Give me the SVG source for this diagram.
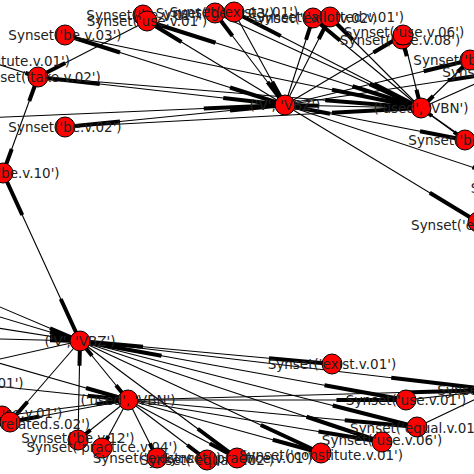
<svg xmlns="http://www.w3.org/2000/svg" width="474" height="474" viewBox="0 0 474 474">
<style>
.e path{fill:none;stroke:#000}
.e .l{stroke-width:1.1}
.e .h{stroke-width:4;stroke-dasharray:0 75 25 0}
.n circle{fill:#ff0000;stroke:#000;stroke-width:1}
.n text{font-family:"DejaVu Sans",sans-serif;font-size:13.5px;fill:#222;text-anchor:middle}
</style>
<rect width="474" height="474" fill="#fff"/>
<g id="connectors" class="e">
<path class="l" d="M285 105L65 35"/><path class="h" pathLength="100" d="M285 105L65 35"/>
<path class="h" pathLength="100" d="M65 35L285 105"/>
<path class="l" d="M285 105L38 77"/><path class="h" pathLength="100" d="M285 105L38 77"/>
<path class="h" pathLength="100" d="M38 77L285 105"/>
<path class="l" d="M147 21L38 77"/><path class="h" pathLength="100" d="M147 21L38 77"/>
<path class="l" d="M-12 61L38 77"/><path class="h" pathLength="100" d="M-12 61L38 77"/>
<path class="l" d="M38 77L3 173"/><path class="h" pathLength="100" d="M38 77L3 173"/>
<path class="h" pathLength="100" d="M3 173L38 77"/>
<path class="l" d="M285 105L65 127"/><path class="h" pathLength="100" d="M285 105L65 127"/>
<path class="h" pathLength="100" d="M65 127L285 105"/>
<path class="l" d="M-40 119L285 105"/><path class="h" pathLength="100" d="M-40 119L285 105"/>
<path class="l" d="M285 105L147 21"/><path class="h" pathLength="100" d="M285 105L147 21"/>
<path class="l" d="M421 108L147 21"/><path class="h" pathLength="100" d="M421 108L147 21"/>
<path class="h" pathLength="100" d="M147 21L421 108"/>
<path class="l" d="M215 13L285 105"/><path class="h" pathLength="100" d="M215 13L285 105"/>
<path class="h" pathLength="100" d="M285 105L215 13"/>
<path class="l" d="M234 12L285 105"/><path class="h" pathLength="100" d="M234 12L285 105"/>
<path class="l" d="M234 12L421 108"/><path class="h" pathLength="100" d="M234 12L421 108"/>
<path class="h" pathLength="100" d="M421 108L234 12"/>
<path class="l" d="M285 105L313 18"/><path class="h" pathLength="100" d="M285 105L313 18"/>
<path class="l" d="M421 108L313 18"/><path class="h" pathLength="100" d="M421 108L313 18"/>
<path class="l" d="M285 105L330 17"/><path class="h" pathLength="100" d="M285 105L330 17"/>
<path class="l" d="M421 108L330 17"/><path class="h" pathLength="100" d="M421 108L330 17"/>
<path class="l" d="M285 105L403 35"/><path class="h" pathLength="100" d="M285 105L403 35"/>
<path class="l" d="M403 35L421 108"/><path class="h" pathLength="100" d="M403 35L421 108"/>
<path class="h" pathLength="100" d="M421 108L402 39"/>
<path class="l" d="M285 105L470 60"/><path class="h" pathLength="100" d="M285 105L470 60"/>
<path class="l" d="M421 108L470 60"/><path class="h" pathLength="100" d="M421 108L470 60"/>
<path class="h" pathLength="100" d="M470 60L421 108"/>
<path class="l" d="M285 105L502 72"/><path class="h" pathLength="100" d="M285 105L502 72"/>
<path class="l" d="M421 108L502 72"/><path class="h" pathLength="100" d="M421 108L502 72"/>
<path class="l" d="M285 105L465 140"/><path class="h" pathLength="100" d="M285 105L465 140"/>
<path class="h" pathLength="100" d="M465 140L285 105"/>
<path class="l" d="M421 108L465 140"/><path class="h" pathLength="100" d="M421 108L465 140"/>
<path class="h" pathLength="100" d="M465 140L421 108"/>
<path class="l" d="M285 105L535 188"/><path class="h" pathLength="100" d="M285 105L535 188"/>
<path class="l" d="M421 108L535 188"/><path class="h" pathLength="100" d="M421 108L535 188"/>
<path class="l" d="M285 105L478 222"/><path class="h" pathLength="100" d="M285 105L478 222"/>
<path class="l" d="M285 105L421 108"/><path class="h" pathLength="100" d="M285 105L421 108"/>
<path class="h" pathLength="100" d="M421 108L285 105"/>
<path class="l" d="M65 35L421 108"/><path class="h" pathLength="100" d="M65 35L421 108"/>
<path class="l" d="M38 77L421 108"/><path class="h" pathLength="100" d="M38 77L421 108"/>
<path class="l" d="M65 127L421 108"/><path class="h" pathLength="100" d="M65 127L421 108"/>
<path class="l" d="M215 13L421 108"/><path class="h" pathLength="100" d="M215 13L421 108"/>
<path class="l" d="M-40 290L80 341"/><path class="h" pathLength="100" d="M-40 290L80 341"/>
<path class="l" d="M-40 305L80 341"/><path class="h" pathLength="100" d="M-40 305L80 341"/>
<path class="l" d="M-40 322L80 341"/><path class="h" pathLength="100" d="M-40 322L80 341"/>
<path class="l" d="M-40 338L80 341"/><path class="h" pathLength="100" d="M-40 338L80 341"/>
<path class="l" d="M80 341L-40 368"/>
<path class="l" d="M3 173L80 341"/><path class="h" pathLength="100" d="M3 173L80 341"/>
<path class="h" pathLength="100" d="M80 341L3 173"/>
<path class="l" d="M78 440L80 341"/><path class="h" pathLength="100" d="M78 440L80 341"/>
<path class="l" d="M80 341L128 400"/><path class="h" pathLength="100" d="M80 341L128 400"/>
<path class="h" pathLength="100" d="M128 400L80 341"/>
<path class="l" d="M80 341L332 364"/><path class="h" pathLength="100" d="M80 341L332 364"/>
<path class="h" pathLength="100" d="M332 364L80 341"/>
<path class="l" d="M80 341L406 400"/><path class="h" pathLength="100" d="M80 341L406 400"/>
<path class="h" pathLength="100" d="M406 400L80 341"/>
<path class="l" d="M80 341L417 427"/><path class="h" pathLength="100" d="M80 341L417 427"/>
<path class="l" d="M80 341L382 442"/><path class="h" pathLength="100" d="M80 341L382 442"/>
<path class="l" d="M80 341L321 453"/><path class="h" pathLength="100" d="M80 341L321 453"/>
<path class="l" d="M80 341L237 458"/><path class="h" pathLength="100" d="M80 341L237 458"/>
<path class="l" d="M80 341L495 390"/><path class="h" pathLength="100" d="M80 341L495 390"/>
<path class="l" d="M80 341L10 422"/><path class="h" pathLength="100" d="M80 341L10 422"/>
<path class="l" d="M128 400L78 440"/><path class="h" pathLength="100" d="M128 400L78 440"/>
<path class="l" d="M128 400L102 448"/><path class="h" pathLength="100" d="M128 400L102 448"/>
<path class="l" d="M128 400L157 458"/><path class="h" pathLength="100" d="M128 400L157 458"/>
<path class="l" d="M128 400L207 460"/><path class="h" pathLength="100" d="M128 400L207 460"/>
<path class="l" d="M128 400L237 458"/><path class="h" pathLength="100" d="M128 400L237 458"/>
<path class="l" d="M128 400L321 453"/><path class="h" pathLength="100" d="M128 400L321 453"/>
<path class="l" d="M128 400L382 442"/><path class="h" pathLength="100" d="M128 400L382 442"/>
<path class="l" d="M128 400L417 427"/><path class="h" pathLength="100" d="M128 400L417 427"/>
<path class="l" d="M128 400L406 400"/><path class="h" pathLength="100" d="M128 400L406 400"/>
<path class="l" d="M128 400L10 422"/><path class="h" pathLength="100" d="M128 400L10 422"/>
<path class="l" d="M2 416L128 400"/><path class="h" pathLength="100" d="M2 416L128 400"/>
<path class="l" d="M-33 383L128 400"/><path class="h" pathLength="100" d="M-33 383L128 400"/>
<path class="l" d="M-40 352L128 400"/><path class="h" pathLength="100" d="M-40 352L128 400"/>
<path class="l" d="M128 400L495 390"/><path class="h" pathLength="100" d="M128 400L495 390"/>
<path class="l" d="M406 400L495 390"/><path class="h" pathLength="100" d="M406 400L495 390"/>
<path class="l" d="M417 427L495 390"/><path class="h" pathLength="100" d="M417 427L495 390"/>
</g>
<g id="n_const1" class="n"><circle cx="-12" cy="61" r="10"/><text x="-12" y="61" dy=".35em">Synset('constitute.v.01')</text></g>
<g id="n_be03" class="n"><circle cx="65" cy="35" r="10"/><text x="65" y="35" dy=".35em">Synset('be.v.03')</text></g>
<g id="n_take02" class="n"><circle cx="38" cy="77" r="10"/><text x="38" y="77" dy=".35em">Synset('take.v.02')</text></g>
<g id="n_be02" class="n"><circle cx="65" cy="127" r="10"/><text x="65" y="127" dy=".35em">Synset('be.v.02')</text></g>
<g id="n_be10" class="n"><circle cx="3" cy="173" r="10"/><text x="3" y="173" dy=".35em">Synset('be.v.10')</text></g>
<g id="n_t1b" class="n"><circle cx="143" cy="15" r="10"/><text x="143" y="15" dy=".35em">Synset('be.v.01')</text></g>
<g id="n_t1" class="n"><circle cx="147" cy="21" r="10"/><text x="147" y="21" dy=".35em">Synset('use.v.01')</text></g>
<g id="n_t2" class="n"><circle cx="215" cy="13" r="10"/><text x="215" y="13" dy=".35em">Synset('get.v.03')</text></g>
<g id="n_t3" class="n"><circle cx="234" cy="12" r="10"/><text x="234" y="12" dy=".35em">Synset('exist.v.01')</text></g>
<g id="n_t4" class="n"><circle cx="313" cy="18" r="10"/><text x="313" y="18" dy=".35em">Synset('exist.v.02')</text></g>
<g id="n_t6" class="n"><circle cx="330" cy="17" r="10"/><text x="330" y="17" dy=".35em">Synset('allotted.v.01')</text></g>
<g id="n_t5b" class="n"><circle cx="402" cy="39" r="10"/><text x="400" y="40" dy=".35em">Synset('use.v.08')</text></g>
<g id="n_t5" class="n"><circle cx="403" cy="35" r="10"/><text x="404" y="32" dy=".35em">Synset('use.v.06')</text></g>
<g id="n_r1" class="n"><circle cx="470" cy="60" r="10"/><text x="470" y="60" dy=".35em">Synset('be.v.01')</text></g>
<g id="n_r1b" class="n"><circle cx="499" cy="72" r="10"/><text x="499" y="72" dy=".35em">Synset('be.v.05')</text></g>
<g id="n_r2" class="n"><circle cx="465" cy="140" r="10"/><text x="465" y="140" dy=".35em">Synset('be.v.08')</text></g>
<g id="n_r3" class="n"><circle cx="535" cy="188" r="10"/><text x="535" y="188" dy=".35em">Synset('exist.v.01')</text></g>
<g id="n_r4" class="n"><circle cx="478" cy="222" r="10"/><text x="478" y="225" dy=".35em">Synset('equal.v.01')</text></g>
<g id="n_v1" class="n"><circle cx="285" cy="105" r="10"/><text x="285" y="105" dy=".35em">('V', 'VBZ')</text></g>
<g id="n_u1" class="n"><circle cx="421" cy="108" r="10"/><text x="421" y="108" dy=".35em">('used', 'VBN')</text></g>
<g id="n_l3" class="n"><circle cx="-33" cy="383" r="10"/><text x="-33" y="383" dy=".35em">Synset('be.v.01')</text></g>
<g id="n_l2" class="n"><circle cx="2" cy="416" r="10"/><text x="2" y="413" dy=".35em">Synset('use.v.01')</text></g>
<g id="n_l1" class="n"><circle cx="10" cy="422" r="10"/><text x="18" y="424" dy=".35em">Synset('related.s.02')</text></g>
<g id="n_be12" class="n"><circle cx="78" cy="440" r="10"/><text x="78" y="438" dy=".35em">Synset('be.v.12')</text></g>
<g id="n_prac04" class="n"><circle cx="102" cy="448" r="10"/><text x="102" y="447" dy=".35em">Synset('practice.v.04')</text></g>
<g id="n_b1" class="n"><circle cx="157" cy="458" r="10"/><text x="157" y="458" dy=".35em">Synset('exist.v.02')</text></g>
<g id="n_b2" class="n"><circle cx="207" cy="460" r="10"/><text x="207" y="460" dy=".35em">Synset('equal.v.02')</text></g>
<g id="n_b3" class="n"><circle cx="237" cy="458" r="10"/><text x="237" y="458" dy=".35em">Synset('practice.v.01')</text></g>
<g id="n_const01" class="n"><circle cx="321" cy="453" r="10"/><text x="321" y="455" dy=".35em">Synset('constitute.v.01')</text></g>
<g id="n_use06" class="n"><circle cx="382" cy="442" r="10"/><text x="382" y="440" dy=".35em">Synset('use.v.06')</text></g>
<g id="n_equal01" class="n"><circle cx="417" cy="427" r="10"/><text x="417" y="428" dy=".35em">Synset('equal.v.01')</text></g>
<g id="n_use01" class="n"><circle cx="406" cy="400" r="10"/><text x="406" y="400" dy=".35em">Synset('use.v.01')</text></g>
<g id="n_r5" class="n"><circle cx="494" cy="390" r="10"/><text x="494" y="390" dy=".35em">Synset('be.v.01')</text></g>
<g id="n_exist01" class="n"><circle cx="332" cy="364" r="10"/><text x="332" y="364" dy=".35em">Synset('exist.v.01')</text></g>
<g id="n_v2" class="n"><circle cx="80" cy="341" r="10"/><text x="80" y="341" dy=".35em">('V', 'VBZ')</text></g>
<g id="n_u2" class="n"><circle cx="128" cy="400" r="10"/><text x="128" y="400" dy=".35em">('used', 'VBN')</text></g>
</svg>
